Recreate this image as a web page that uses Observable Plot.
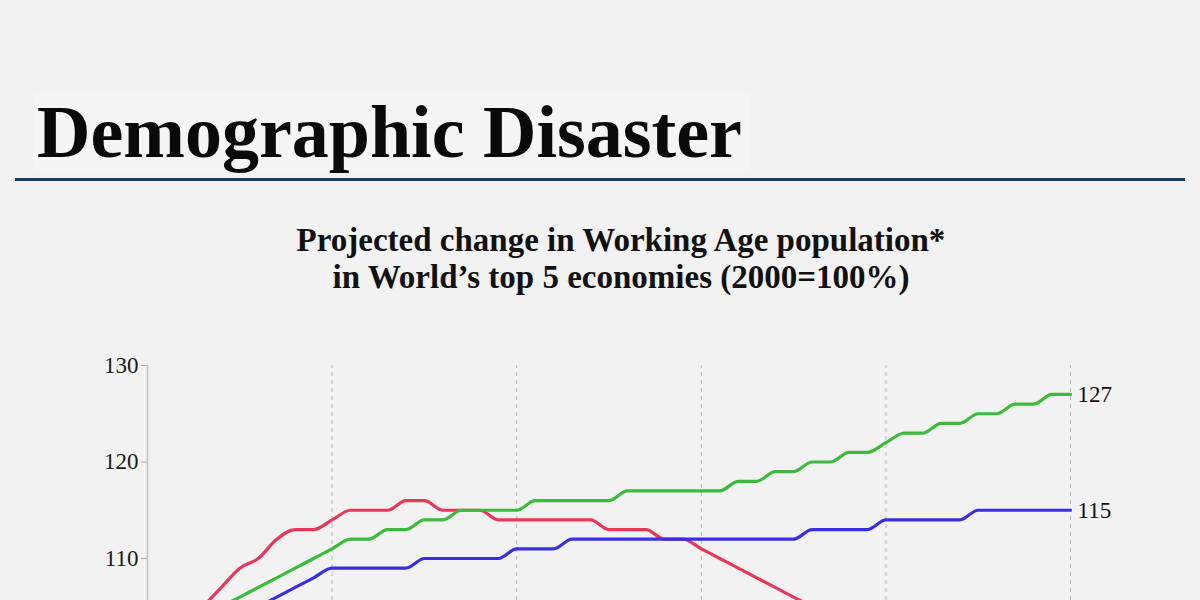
<!DOCTYPE html>
<html>
<head>
<meta charset="utf-8">
<script src="https://cdn.jsdelivr.net/npm/d3@7"></script>
<script src="https://cdn.jsdelivr.net/npm/@observablehq/plot@0.6"></script>
<style>
  html, body { margin: 0; padding: 0; width: 1200px; height: 600px; overflow: hidden; background: #f2f2f2; }
  #titlebox { position: absolute; left: 33px; top: 92px; width: 718px; height: 80px; background: #f5f5f5; }
  #title { position: absolute; left: 37px; top: 95px; margin: 0; font: bold 74px/74px "Liberation Serif", serif; color: #0a0a0a; white-space: nowrap; }
  #rule { position: absolute; left: 15px; top: 178px; width: 1170px; height: 3px; background: #163a5c; }
  #subtitle { position: absolute; left: 0; top: 222px; width: 1242px; text-align: center; font: bold 33px/37px "Liberation Serif", serif; color: #111; }
  #chart { position: absolute; left: 0; top: 300px; }
</style>
</head>
<body>
<div id="titlebox"></div>
<h1 id="title">Demographic Disaster</h1>
<div id="rule"></div>
<div id="subtitle">Projected change in Working Age population*<br>in World’s top 5 economies (2000=100%)</div>
<div id="chart"></div>
<script>
// ---- data (values below the crop are estimates) ----
const years = [2000,2001,2002,2003,2004,2005,2006,2007,2008,2009,
               2010,2011,2012,2013,2014,2015,2016,2017,2018,2019,
               2020,2021,2022,2023,2024,2025,2026,2027,2028,2029,
               2030,2031,2032,2033,2034,2035,2036,2037,2038,2039,
               2040,2041,2042,2043,2044,2045,2046,2047,2048,2049,2050];

const seriesNames = ["China", "United States", "United Kingdom"];
const seriesColors = ["#e8385a", "#3dba3d", "#3a2ee0"];
// series whose end label is visible in the reference
const labelledSeries = ["United States", "United Kingdom"];

const china = [100,101,103,105,107,109,110,112,113,113,
               114,115,115,115,116,116,115,115,115,114,
               114,114,114,114,114,113,113,113,112,112,
               111,110,109,108,107,106,105,104,103,102,
               101,100,99,98,97,96,95,94,93,92,91];

const usa =   [100,101,103,104,105,106,107,108,109,110,
               111,112,112,113,113,114,114,115,115,115,
               115,116,116,116,116,116,117,117,117,117,
               117,117,118,118,119,119,120,120,121,121,
               122,123,123,124,124,125,125,126,126,127,127];

const uk =    [100,101,101,102,103,104,105,106,107,108,
               109,109,109,109,109,110,110,110,110,110,
               111,111,111,112,112,112,112,112,112,112,
               112,112,112,112,112,112,113,113,113,113,
               114,114,114,114,114,115,115,115,115,115,115];

const yTicks = [110, 120, 130];
const gridYears = [2010, 2020, 2030, 2040, 2050];
const yDomain = [70, 130];
const xDomain = [2000, 2050];

// long table for Plot
const valuesBySeries = [china, usa, uk];
const data = [];
seriesNames.forEach((name, i) => {
  years.forEach((yr, j) => data.push({series: name, year: yr, value: valuesBySeries[i][j]}));
});
const labelData = data.filter(d => labelledSeries.includes(d.series));

const chart = Plot.plot({
  width: 1200,
  height: 674,
  marginTop: 65,
  marginBottom: 30,
  marginLeft: 147,
  marginRight: 130,
  style: { background: "transparent", fontFamily: "'Liberation Serif', serif", fontSize: "23px", color: "#1a1a1a" },
  x: { domain: xDomain, axis: null },
  y: { domain: yDomain },
  color: { domain: seriesNames, range: seriesColors },
  marks: [
    Plot.ruleX(gridYears, { y1: yDomain[0], y2: yDomain[1], stroke: "#b8b8b8", strokeWidth: 1, strokeDasharray: "4,4" }),
    Plot.ruleX([xDomain[0]], { y1: yDomain[0], y2: yDomain[1], stroke: "#c4c4c4", strokeWidth: 1.5 }),
    Plot.axisY({ ticks: yTicks, tickSize: 6, tickPadding: 3, stroke: "#b0b0b0", fontSize: 23, label: null }),
    Plot.lineY(data, { x: "year", y: "value", stroke: "series", curve: "monotone-x", strokeWidth: 3.2 }),
    Plot.text(labelData, Plot.selectLast({ x: "year", y: "value", z: "series", text: d => String(d.value), dx: 7, textAnchor: "start", fontSize: 23, fill: "#111" }))
  ]
});
document.getElementById("chart").appendChild(chart);
</script>
</body>
</html>
